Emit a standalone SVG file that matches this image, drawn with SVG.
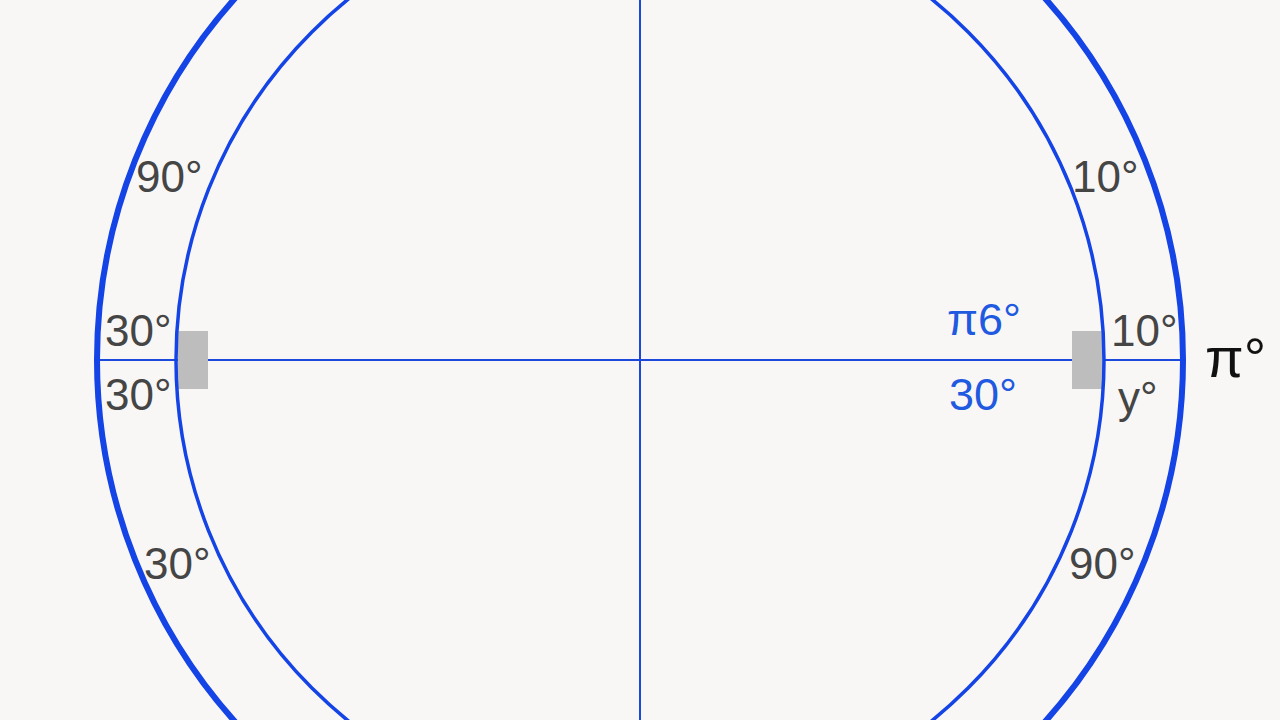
<svg xmlns="http://www.w3.org/2000/svg" width="1280" height="720" viewBox="0 0 1280 720">
  <style>
    .lbl { font-family: "Liberation Sans", Arial, sans-serif; font-size: 44px; fill: #454545; }
    .blue { font-family: "Liberation Sans", Arial, sans-serif; font-size: 45px; fill: #1f5ae0; }
    .pi { font-family: "Liberation Sans", Arial, sans-serif; font-size: 56px; fill: #111111; }
    .axis { stroke: #1d48dc; stroke-width: 2; fill: none; }
    .mark { fill: #bdbdbd; }
  </style>
  <rect x="0" y="0" width="1280" height="720" fill="#f8f7f5"/>
  <g id="connectors">
    <line class="axis" x1="97" y1="360" x2="1183" y2="360"/>
    <line class="axis" x1="640" y1="0" x2="640" y2="720"/>
  </g>
  <g id="markers">
    <rect class="mark" x="178" y="331" width="30" height="58"/>
    <rect class="mark" x="1072" y="331" width="31" height="58"/>
  </g>
  <g id="outer-circle">
    <circle cx="640" cy="360" r="543" fill="none" stroke="#1443e6" stroke-width="6"/>
  </g>
  <g id="inner-circle">
    <circle cx="640" cy="360" r="464" fill="none" stroke="#1443e6" stroke-width="3.5"/>
  </g>
  <g id="labels">
    <text class="lbl" x="136" y="192">90°</text>
    <text class="lbl" x="105" y="346">30°</text>
    <text class="lbl" x="105" y="410">30°</text>
    <text class="lbl" x="144" y="579">30°</text>
    <text class="lbl" x="1072" y="192">10°</text>
    <text class="lbl" x="1111" y="346">10°</text>
    <text class="lbl" x="1118" y="413">y°</text>
    <text class="lbl" x="1069" y="579">90°</text>
    <text class="blue" x="947" y="335">π6°</text>
    <text class="blue" x="949" y="410">30°</text>
    <text class="pi" x="1205" y="377">π°</text>
  </g>
</svg>
